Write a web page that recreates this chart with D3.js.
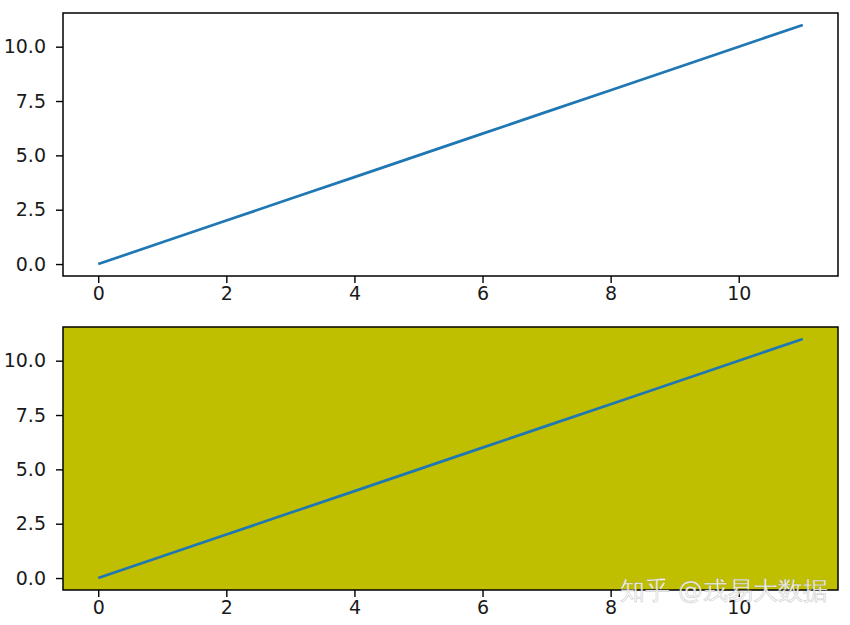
<!DOCTYPE html>
<html>
<head>
<meta charset="utf-8">
<script src="https://cdn.jsdelivr.net/npm/d3@7"></script>
<style>
  body { margin: 0; background: #fff; }
  svg text { font-family: "DejaVu Sans", sans-serif; }
</style>
</head>
<body>
<div id="chart"></div>
<script>
const xValues = [0, 1, 2, 3, 4, 5, 6, 7, 8, 9, 10, 11]
const yValues = [0, 1, 2, 3, 4, 5, 6, 7, 8, 9, 10, 11]
const xTicks = [0, 2, 4, 6, 8, 10]
const yTicks = [0, 2.5, 5, 7.5, 10]
const panelColors = ["#ffffff", "#bfbf00"]

const W = 850, H = 625
const left = 63, right = 838
const panels = [{top: 13, bottom: 276}, {top: 327, bottom: 590}]

const svg = d3.select("#chart")
    .append("svg")
    .attr("width", W)
    .attr("height", H)

const data = xValues.map((x, i) => ({x: x, y: yValues[i]}))

const pad = (11 - 0) * 0.05
const x = d3.scaleLinear()
    .domain([d3.min(xValues) - pad, d3.max(xValues) + pad])
    .range([left, right])

panels.forEach((p, i) => {
    const y = d3.scaleLinear()
        .domain([d3.min(yValues) - pad, d3.max(yValues) + pad])
        .range([p.bottom, p.top])

    const g = svg.append("g")

    g.append("rect")
        .attr("x", left)
        .attr("y", p.top)
        .attr("width", right - left)
        .attr("height", p.bottom - p.top)
        .attr("fill", panelColors[i])

    const line = d3.line()
        .x(d => x(d.x))
        .y(d => y(d.y))

    g.append("path")
        .datum(data)
        .attr("d", line)
        .attr("fill", "none")
        .attr("stroke", "#1f77b4")
        .attr("stroke-width", 2.7)

    const xAxis = d3.axisBottom(x)
        .tickValues(xTicks)
        .tickFormat(d3.format("d"))
        .tickSize(7)
        .tickPadding(4)
    const gx = g.append("g")
        .attr("transform", "translate(0," + p.bottom + ")")
        .call(xAxis)

    const yAxis = d3.axisLeft(y)
        .tickValues(yTicks)
        .tickFormat(d3.format(".1f"))
        .tickSize(7)
        .tickPadding(10)
    const gy = g.append("g")
        .attr("transform", "translate(" + left + ",0)")
        .call(yAxis)

    ;[gx, gy].forEach(a => {
        a.select(".domain").remove()
        a.selectAll(".tick line").attr("stroke", "#000").attr("stroke-width", 1.4)
        a.selectAll(".tick text")
            .attr("fill", "#1a1a1a")
            .attr("font-size", "19px")
            .attr("font-family", "DejaVu Sans, sans-serif")
    })

    g.append("rect")
        .attr("x", left)
        .attr("y", p.top)
        .attr("width", right - left)
        .attr("height", p.bottom - p.top)
        .attr("fill", "none")
        .attr("stroke", "#000")
        .attr("stroke-width", 1.5)
})

// watermark
svg.append("text")
    .attr("x", 828)
    .attr("y", 599)
    .attr("text-anchor", "end")
    .attr("font-family", "Noto Sans CJK SC, sans-serif")
    .attr("font-size", "25px")
    .attr("fill", "#ffffff")
    .attr("fill-opacity", 0.9)
    .attr("stroke", "#888")
    .attr("stroke-opacity", 0.35)
    .attr("stroke-width", 0.8)
    .text("知乎 @戎易大数据")
</script>
</body>
</html>
